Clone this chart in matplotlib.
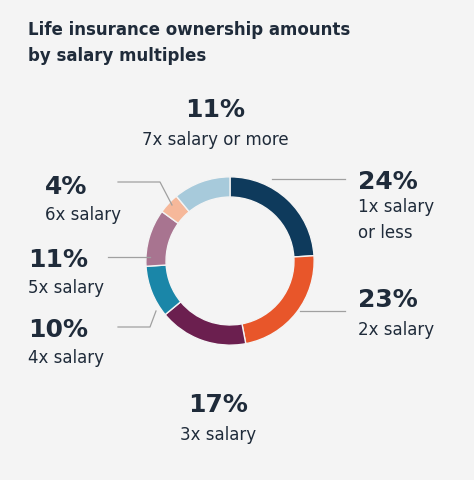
import matplotlib.pyplot as plt

labels = ["1x salary\nor less", "2x salary", "3x salary", "4x salary", "5x salary", "6x salary", "7x salary or more"]
values = [24, 23, 17, 10, 11, 4, 11]
colors = ["#0e3a5c", "#e8562a", "#6b1f4f", "#1a86a8", "#a87490", "#f6b89a", "#a7cadb"]

W, H = 474, 481
bg = "#f4f4f4"
fig = plt.figure(figsize=(W/100, H/100), dpi=100, facecolor=bg)

cx, cy, r = 230, 262, 85
ax = fig.add_axes([(cx-r)/W, (H-cy-r)/H, 2*r/W, 2*r/H])
ax.pie(values, colors=colors, startangle=90, counterclock=False,
       wedgeprops=dict(width=0.24, edgecolor=bg, linewidth=1.0))
ax.set_aspect("equal")
ax.set_xlim(-1.01, 1.01)
ax.set_ylim(-1.01, 1.01)
ax.set_facecolor(bg)
ax.axis("off")

def px(x, y):
    return x/W, 1-y/H

tc = "#1f2b3a"
fig.text(*px(28, 30), "Life insurance ownership amounts", fontsize=12, fontweight="bold", color=tc, va="center")
fig.text(*px(28, 56), "by salary multiples", fontsize=12, fontweight="bold", color=tc, va="center")

ann = [  # pct, x, y_pct, y_label, ha
    ("11%", 215, 110, 140, "center"),
    ("24%", 358, 182, 198, "left"),
    ("23%", 358, 300, 330, "left"),
    ("17%", 218, 405, 435, "center"),
    ("10%", 28, 330, 358, "left"),
    ("11%", 28, 260, 288, "left"),
    ("4%", 45, 187, 215, "left"),
]
order = [6, 0, 1, 2, 3, 4, 5]
for (pct, x, yp, yl, ha), idx in zip(ann, order):
    fig.text(*px(x, yp), pct, fontsize=18, fontweight="bold", color=tc, ha=ha, va="center")
    fig.text(*px(x, yl), labels[idx], fontsize=12, color=tc, ha=ha,
             va="top" if "\n" in labels[idx] else "center", linespacing=1.6)

lc = "#a0a0a0"
lines = [
    [(272, 180), (345, 180)],
    [(300, 312), (345, 312)],
    [(118, 183), (160, 183), (172, 206)],
    [(108, 258), (150, 258)],
    [(118, 328), (150, 328), (156, 312)],
]
for pts in lines:
    xs = [p[0]/W for p in pts]; ys = [1-p[1]/H for p in pts]
    fig.add_artist(plt.Line2D(xs, ys, color=lc, lw=0.9))

fig.savefig("out.png", dpi=100, facecolor=bg)
